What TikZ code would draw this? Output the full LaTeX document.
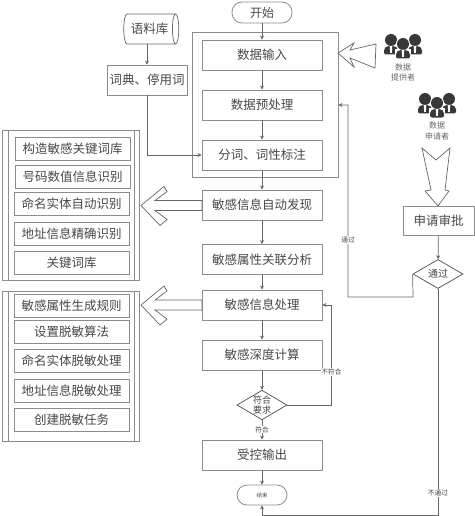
\documentclass[tikz,border=0pt]{standalone}
\usepackage{fontspec}
\setmainfont{Noto Sans CJK SC}
\usetikzlibrary{shapes.geometric, arrows.meta, positioning}

\begin{document}
\begin{tikzpicture}[
  x=1pt, y=-1pt,
  every node/.style={text=black!72},
  box/.style={rectangle, draw=black!45, line width=0.8pt, minimum width=120pt, minimum height=30pt, inner sep=0pt, font=\fontsize{12.5}{15}\selectfont},
  itembox/.style={box, minimum width=115pt, minimum height=23pt},
  panel/.style={rectangle, draw=black!45, line width=0.8pt, minimum width=137pt, minimum height=150pt, inner sep=0pt},
  terminal/.style={box, rounded corners=10pt},
  decision/.style={diamond, draw=black!70, line width=0.7pt, aspect=1.67, inner sep=0pt, minimum width=50pt, minimum height=29pt, align=center},
  conn/.style={-{Stealth[length=4pt,width=4pt]}, line width=0.7pt, draw=black!60},
  hollow/.style={draw=black!60, line width=0.7pt, fill=white, line join=miter},
  tiny/.style={font=\fontsize{6.7}{8}\selectfont, fill=white, inner sep=0.5pt},
  caption/.style={font=\fontsize{8}{10.5}\selectfont, align=center, text=black!60},
  person/.pic={
    \fill[black!78] (0,0) circle (6pt);
    \fill[black!78, rounded corners=2pt] (-7,14.5) -- (-7,8.5) -- (-4,6) -- (4,6) -- (7,8.5) -- (7,14.5) -- cycle;
    \fill[white] (-1.3,6) -- (1.3,6) -- (0.8,13) -- (-0.8,13) -- cycle;
  },
]
  \useasboundingbox (0,0) rectangle (474,516);

  % --- large frame behind the first three steps ---
  \node[box, minimum width=146pt, minimum height=145pt] (frame) at (265,104.5) {};

  % --- main column ---
  \node[terminal, minimum width=60pt, minimum height=21pt, font=\fontsize{12}{14}\selectfont] (start) at (262,12.5) {开始};
  \node[box] (input) at (262,55) {数据输入};
  \node[box] (prep) at (262,105) {数据预处理};
  \node[box] (seg) at (262,155) {分词、词性标注};
  \node[box] (found) at (262,205) {敏感信息自动发现};
  \node[box] (assoc) at (262,259.5) {敏感属性关联分析};
  \node[box] (treat) at (262,305) {敏感信息处理};
  \node[box] (depth) at (262,355) {敏感深度计算};
  \node[decision, font=\fontsize{9}{10.5}\selectfont] (meet) at (262,405) {符合\\要求};
  \node[box] (output) at (262,455) {受控输出};
  \node[terminal, minimum width=50pt, minimum height=20pt, font=\fontsize{5.5}{7}\selectfont] (finish) at (262,495) {结束};

  % --- corpus and dictionary ---
  \node[cylinder, draw=black!60, line width=0.7pt, shape aspect=0.55, minimum width=30pt, minimum height=55pt, inner sep=0pt, font=\fontsize{12.5}{15}\selectfont] (corpus) at (149.5,29) {语料库};
  \node[box, minimum width=80pt] (dict) at (147,80) {词典、停用词};

  % --- left panels ---
  \node[panel] (panela) at (71,205) {};
  \node[panel] (panelb) at (71,366) {};
  \foreach \pan in {panela, panelb} {
    \draw[draw=black!45, line width=0.8pt] ([xshift=6pt]\pan.north west) -- ([xshift=6pt]\pan.south west);
    \draw[draw=black!45, line width=0.8pt] ([xshift=-6pt]\pan.north east) -- ([xshift=-6pt]\pan.south east);
  }
  \foreach \nam/\x/\y/\lab in {a1/72.5/148.5/构造敏感关键词库, a2/72.5/176.5/号码数值信息识别, a3/71.5/204/命名实体自动识别, a4/71.5/234/地址信息精确识别, a5/71.5/262.5/关键词库,
      b1/71.5/305.5/敏感属性生成规则, b2/71.5/332/设置脱敏算法, b3/71.5/360.5/命名实体脱敏处理, b4/71.5/390.5/地址信息脱敏处理, b5/71.5/419.5/创建脱敏任务} {
    \node[itembox] (\nam) at (\x,\y) {\lab};
  }

  % --- wide arrows ---
  \foreach \y in {205.5, 305} {
    \draw[hollow] (141,\y) -- (164,\y-19) -- (167,\y-14) -- (155,\y-5) -- (202,\y-5) -- (202,\y+5) -- (155,\y+5) -- (167,\y+14) -- (160,\y+20) -- cycle;
  }
  \draw[hollow] (338,53) -- (354,43) -- (350,50) -- (376,44) -- (375,68) -- (350,58) -- (354,67) -- cycle;
  \draw[hollow] (438,206) -- (425,191) -- (431,190) -- (422,148) -- (436,160) -- (450,148) -- (445,190) -- (449,191) -- cycle;

  % --- people ---
  \foreach \cx/\cy in {403/40, 437/99} {
    \pic at (\cx-12,\cy) {person};
    \pic at (\cx+12,\cy) {person};
    \fill[white] (\cx,\cy+4) circle (7pt);
    \fill[white] (\cx-8,\cy+9) rectangle (\cx+8,\cy+18.5);
    \pic at (\cx,\cy+4) {person};
  }
  \node[caption] (provider) at (403,72.5) {数据\\提供者};
  \node[caption] (applicant) at (437,131) {数据\\申请者};

  % --- approval ---
  \node[box, minimum width=71pt, minimum height=29pt] (approve) at (438.5,220.5) {申请审批};
  \node[decision, font=\fontsize{10}{12}\selectfont] (passed) at (438,274) {通过};

  % --- connectors of main column ---
  \draw[conn] (start) -- (input);
  \draw[conn] (input) -- (prep);
  \draw[conn] (prep) -- (seg);
  \draw[conn] (seg) -- (found);
  \draw[conn] (found) -- (assoc);
  \draw[conn] (assoc) -- (treat);
  \draw[conn] (treat) -- (depth);
  \draw[conn] (depth) -- (meet);
  \draw[conn] (meet) -- node[tiny] (fit) {符合} (output);
  \draw[conn] (output) -- (finish);

  \draw[conn] (corpus.south -| dict.north) -- (dict.north);
  \coordinate (segin) at (147,155);
  \draw[conn] (dict.south) -- (segin) -- (seg.west);

  % --- failed check goes back ---
  \coordinate (loopback) at (331,405);
  \draw[conn] (meet.east) -- (loopback) |- (treat.east);
  \node[tiny] (nofit) at (331.5,372) {不符合};

  % --- result of approval ---
  \draw[conn] (approve) -- (passed);
  \coordinate (backa) at (413,297);
  \coordinate (backb) at (348,297);
  \coordinate (backc) at (348,105);
  \draw[conn] (passed.west) -- (backa) -- (backb) -- (backc) -- (backc -| frame.east);
  \node[tiny] (okay) at (348,240) {通过};
  \coordinate (rejbend) at (262,515);
  \draw[conn] (passed.south) |- (rejbend) -- (finish.south);
  \node[tiny] (refuse) at (438,493) {不通过};
\end{tikzpicture}
\end{document}
